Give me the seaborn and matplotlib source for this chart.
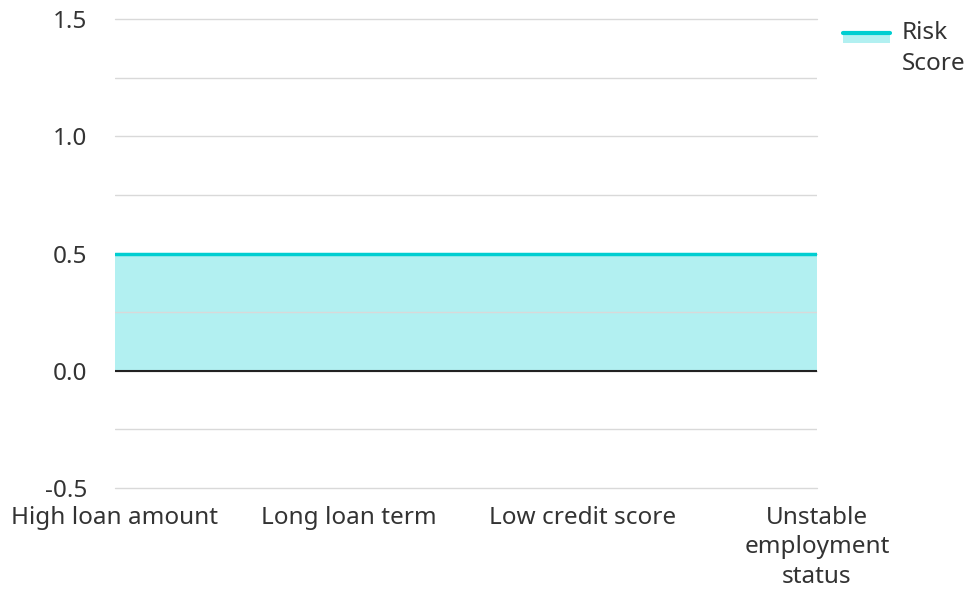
import matplotlib
matplotlib.use("Agg")
import matplotlib.pyplot as plt
import seaborn as sns
import pandas as pd
from matplotlib.lines import Line2D
from matplotlib.patches import Rectangle

# Chart data
categories = ["High loan amount", "Long loan term", "Low credit score", "Unstable employment status"]
tick_labels = ["High loan amount", "Long loan term", "Low credit score", "Unstable\nemployment\nstatus"]
risk_score = [0.5, 0.5, 0.5, 0.5]

sns.set_theme(style="white")
plt.rcParams['font.family'] = ['Noto Sans', 'DejaVu Sans']
plt.rcParams['axes.unicode_minus'] = False

line_color = '#00CED1'
fs = 17.5

df = pd.DataFrame({'pos': range(len(categories)), 'score': risk_score})

fig = plt.figure(figsize=(9.66, 5.89), dpi=100)
ax = fig.add_axes([0.119, 0.1715, 0.7268, 0.7962])

ax.fill_between(df['pos'], 0, df['score'], color=line_color, alpha=0.3, linewidth=0, zorder=2)
sns.lineplot(data=df, x='pos', y='score', color=line_color, linewidth=2.5, ax=ax, zorder=3)

ax.set_xlim(0, len(categories) - 1)
ax.set_ylim(-0.5, 1.5)
ax.set_yticks([-0.5, 0.0, 0.5, 1.0, 1.5])
ax.set_yticklabels(["-0.5", "0.0", "0.5", "1.0", "1.5"])
ax.set_yticks([-0.25, 0.25, 0.75, 1.25], minor=True)
ax.set_xticks(range(len(categories)))
ax.set_xticklabels(tick_labels, linespacing=1.3)

ax.grid(axis='y', which='both', color='#d9d9d9', linewidth=1, zorder=1)
for gl in ax.yaxis.get_gridlines():
    gl.set_clip_on(False)
ax.set_axisbelow(False)
ax.axhline(0, color='#222222', linewidth=1.5, zorder=4)
for s in ax.spines.values():
    s.set_visible(False)
ax.tick_params(axis='both', which='both', length=0, labelsize=fs, colors='#333333')
ax.tick_params(axis='y', pad=20)
ax.tick_params(axis='x', pad=13)
ax.set_xlabel('')
ax.set_ylabel('')

# legend
fig.add_artist(Rectangle((843 / 966, 1 - 43 / 589), 47 / 966, 10 / 589,
                         transform=fig.transFigure, color=line_color, alpha=0.3, linewidth=0))
fig.add_artist(Line2D([843 / 966, 890 / 966], [1 - 33 / 589, 1 - 33 / 589],
                      transform=fig.transFigure, color=line_color, linewidth=3))
fig.text(902 / 966, 1 - 21 / 589, "Risk\nScore", fontsize=fs, color='#333333',
         va='top', ha='left', linespacing=1.4, transform=fig.transFigure)

fig.savefig('out.png', dpi=100)
